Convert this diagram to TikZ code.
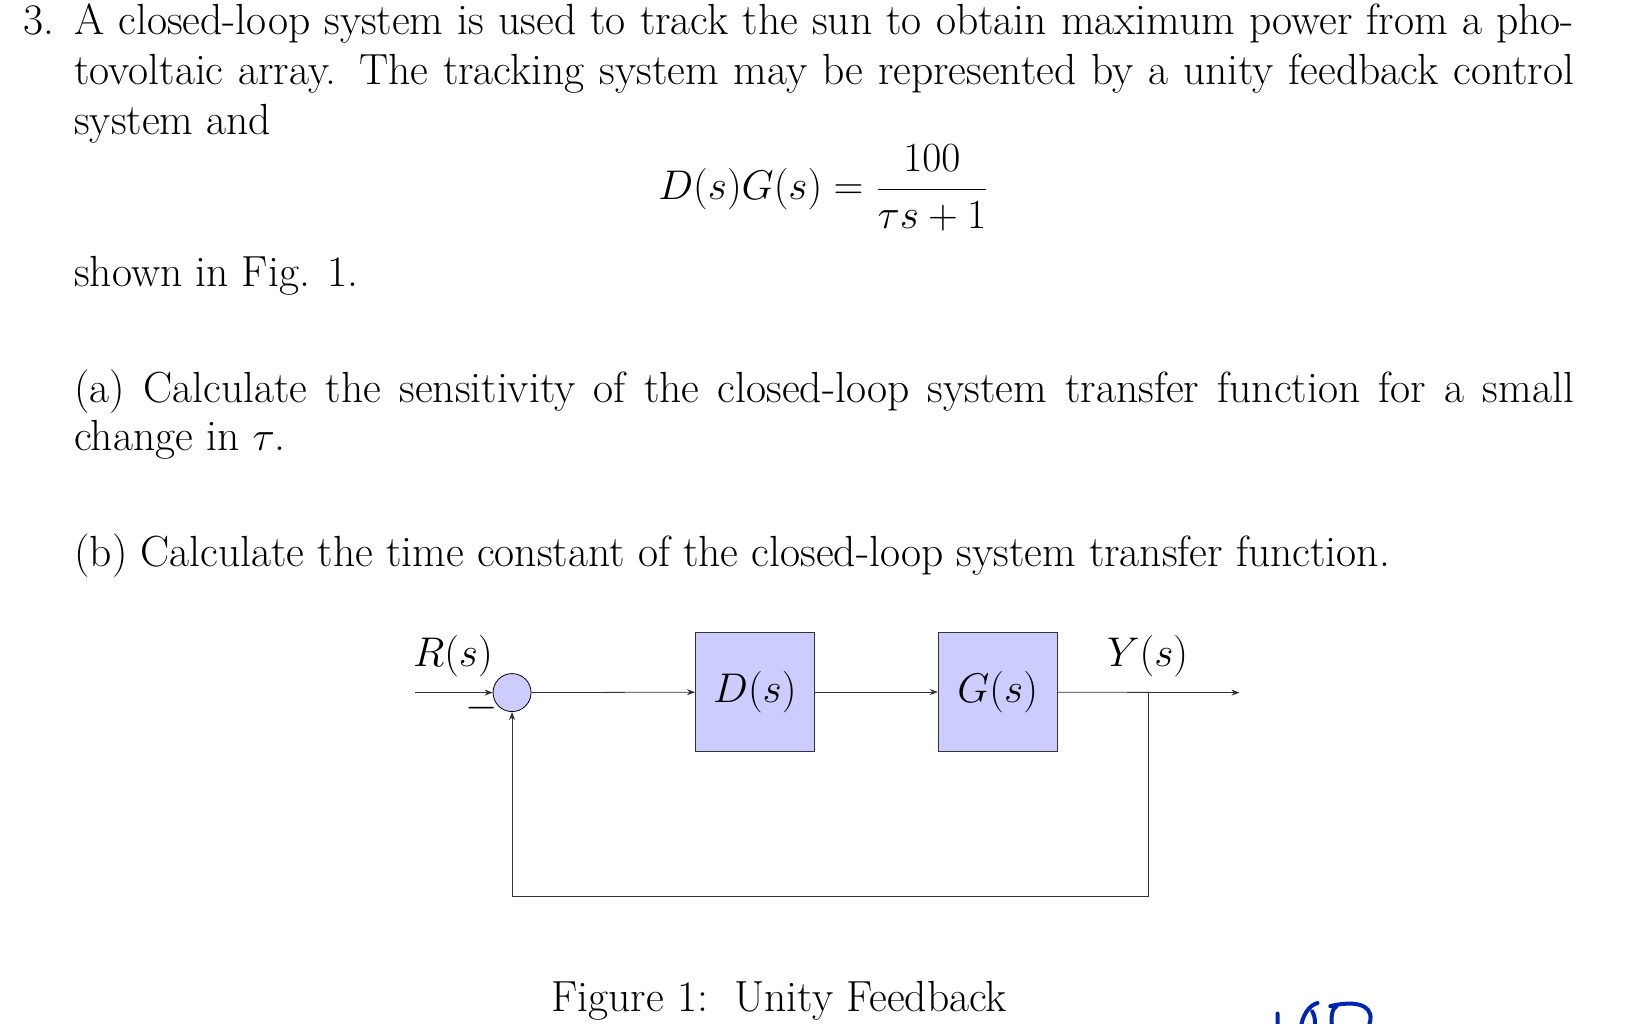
\documentclass[tikz,border=0pt]{standalone}
\usetikzlibrary{arrows.meta}
\begin{document}
\begin{tikzpicture}[x=0.528pt,y=-0.528pt,
  txt/.style={anchor=base west,inner sep=0pt,font=\fontsize{21.8}{26}\selectfont},
  blk/.style={draw=black!80,fill=blue!20,minimum width=59.5pt,minimum height=59.5pt,inner sep=0pt,font=\fontsize{21.8}{26}\selectfont},
  sumc/.style={circle,draw=black,fill=blue!20,minimum size=19pt,inner sep=0pt},
  lbl/.style={inner sep=0pt,font=\fontsize{21.8}{26}\selectfont},
  sig/.style={-{Stealth[length=4pt,width=3pt]},black!80}]
\useasboundingbox (0,0) rectangle (1560,969);
\node[txt] (n3) at (22,33) {3.};
\node[txt] (l1) at (70,33) {\parbox[b]{750pt}{\parfillskip=0pt A closed-loop system is used to track the sun to obtain maximum power from a pho-}};
\node[txt] (l2) at (70,80) {\parbox[b]{750pt}{\parfillskip=0pt tovoltaic array. The tracking system may be represented by a unity feedback control}};
\node[txt] (l3) at (70,127) {system and};
\node[lbl] (eq) at (780,178) {$\displaystyle D(s)G(s)=\frac{100}{\tau s+1}$};
\node[txt] (l4) at (70,271) {shown in Fig. 1.};
\node[txt] (a1) at (70,381) {\parbox[b]{750pt}{\parfillskip=0pt (a) Calculate the sensitivity of the closed-loop system transfer function for a small}};
\node[txt] (a2) at (70,427) {change in $\tau$.};
\node[txt] (b1) at (70,537) {(b) Calculate the time constant of the closed-loop system transfer function.};
\node[sumc] (sum) at (485,656) {};
\node[blk] (D) at (715,655.5) {$D(s)$};
\node[blk] (G) at (945,655.5) {$G(s)$};
\coordinate (in) at (393,656);
\coordinate (br) at (1088,656);
\coordinate (out) at (1174,656);
\coordinate (c1) at (1088,849);
\coordinate (c2) at (485,849);
\draw[sig] (in) -- (sum);
\draw[sig] (sum) -- (D);
\draw[sig] (D) -- (G);
\draw[sig] (G) -- (out);
\draw[sig] (br) -- (c1) -- (c2) -- (sum);
\node[lbl] (R) at (429,621) {$R(s)$};
\node[lbl] (Y) at (1087,621) {$Y(s)$};
\node[lbl] (m) at (456,671) {$-$};
\node[txt] (cap) at (522,958) {Figure 1:\ \ Unity Feedback};
\draw[blue!80!cyan!70!black,line width=2pt,line cap=round] (1210,960) -- (1210,975)
 (1232,975) .. controls (1233,962) and (1240,952) .. (1248,950)
 (1243,958) .. controls (1246,963) and (1246,970) .. (1245,975)
 (1262,975) .. controls (1260,962) and (1262,955) .. (1266,953)
 (1260,953) .. controls (1280,948) and (1300,950) .. (1298,966) -- (1296,975);
\end{tikzpicture}
\end{document}
